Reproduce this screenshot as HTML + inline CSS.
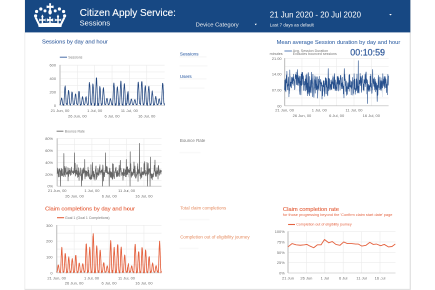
<!DOCTYPE html>
<html><head><meta charset="utf-8"><title>Citizen Apply Service: Sessions</title><style>
html,body{margin:0;padding:0;background:#fff;}
body{width:435px;height:290px;overflow:hidden;position:relative;font-family:"Liberation Sans",sans-serif;}
svg text{font-family:"Liberation Sans",sans-serif;}
</style></head><body>
<div style="position:absolute;left:0;top:0;width:435px;height:290px;overflow:hidden">
<svg width="870" height="580" viewBox="0 0 435 290" style="position:absolute;left:0;top:0;transform:scale(0.5);transform-origin:0 0;will-change:transform">
<line x1="24.80" y1="0.00" x2="24.80" y2="289.00" stroke="#eeeeee" stroke-width="1.0"/>
<line x1="410.30" y1="0.00" x2="410.30" y2="289.50" stroke="#e2e2e2" stroke-width="1.3"/>
<line x1="24.50" y1="289.60" x2="410.80" y2="289.60" stroke="#e2e2e2" stroke-width="1.4"/>
<rect x="25" y="0" width="385.3" height="32.4" fill="#174883"/>
<g transform="translate(34,3)" fill="#fff">
<path d="M15.1 0.3 L17.1 0.3 L16.9 2.9 L19.6 2.5 L19.6 5.1 L16.9 4.8 L17 6.8 L15.2 6.8 L15.3 4.8 L12.6 5.1 L12.6 2.5 L15.3 2.9 Z"/>
<ellipse cx="16.1" cy="9.1" rx="1.7" ry="2.5"/>
<circle cx="6.8" cy="6" r="1.6"/><circle cx="11" cy="7.9" r="1.5"/><circle cx="2.6" cy="8.5" r="1.6"/><circle cx="1.6" cy="12.8" r="1.6"/>
<circle cx="25.4" cy="6" r="1.6"/><circle cx="21.2" cy="7.9" r="1.5"/><circle cx="29.6" cy="8.5" r="1.6"/><circle cx="30.6" cy="12.8" r="1.6"/>
<g id="fl"><rect x="7.7" y="12.8" width="1.4" height="8.4"/><rect x="5.8" y="16.3" width="5.2" height="1.4"/><path d="M8.4 11.4 L9.6 13.8 L8.4 15.4 L7.2 13.8 Z"/><path d="M5.2 15.2 L6.6 17 L5.2 18.8 Z"/><path d="M11.6 15.2 L10.2 17 L11.6 18.8 Z"/></g>
<use href="#fl" x="15.6"/>
<rect x="15.3" y="14.4" width="1.4" height="7"/><path d="M12.8 15.4 L15.6 16.4 L15.6 17.6 L12.8 18.6 Z M19.2 15.4 L16.4 16.4 L16.4 17.6 L19.2 18.6 Z M14.8 13.8 L17.2 13.8 L16 16 Z"/>
<path d="M0.4 14.2 L2.7 14.2 L5.9 21 L4.1 21.8 Z"/><path d="M31.6 14.2 L29.3 14.2 L26.1 21 L27.9 21.8 Z"/>
<path d="M3.9 20.6 Q16 19 28.1 20.6 L27.4 24 L4.6 24 Z"/>
</g>
<text x="79.70" y="16.10" font-size="10.2" fill="#fff" text-anchor="start" textLength="96.2" lengthAdjust="spacingAndGlyphs" stroke="#fff" stroke-width="0.1" >Citizen Apply Service:</text>
<text x="79.70" y="25.40" font-size="7.4" fill="#fff" text-anchor="start" textLength="30.4" lengthAdjust="spacingAndGlyphs" >Sessions</text>
<text x="195.70" y="26.47" font-size="5.8" fill="#f0f0f0" text-anchor="start" textLength="43" lengthAdjust="spacingAndGlyphs" >Device Category</text>
<path d="M254.3 23.8 L257 23.8 L255.65 25.3 Z" fill="#fff"/>
<text x="269.80" y="17.50" font-size="8.0" fill="#fff" text-anchor="start" textLength="91.2" lengthAdjust="spacingAndGlyphs" >21 Jun 2020 - 20 Jul 2020</text>
<path d="M389.2 14 L391.8 14 L390.5 15.5 Z" fill="#fff"/>
<text x="269.80" y="26.60" font-size="4.5" fill="#f4f4f4" text-anchor="start" textLength="44" lengthAdjust="spacingAndGlyphs" >Last 7 days as default</text>
<text x="42.00" y="43.60" font-size="5.9" fill="#345e9e" text-anchor="start" textLength="65.8" lengthAdjust="spacingAndGlyphs" stroke="#345e9e" stroke-width="0.08" >Sessions by day and hour</text>
<text x="45.10" y="210.70" font-size="5.8" fill="#e4623f" text-anchor="start" textLength="89.8" lengthAdjust="spacingAndGlyphs" stroke="#e4623f" stroke-width="0.12" >Claim completions by day and hour</text>
<text x="276.60" y="43.80" font-size="5.8" fill="#3262a5" text-anchor="start" textLength="123.7" lengthAdjust="spacingAndGlyphs" stroke="#3262a5" stroke-width="0.05" >Mean average Session duration by day and hour</text>
<text x="350.30" y="55.60" font-size="8.9" fill="#3a62a0" text-anchor="start" textLength="34.7" lengthAdjust="spacingAndGlyphs" stroke="#3a62a0" stroke-width="0.25" >00:10:59</text>
<text x="282.90" y="210.80" font-size="5.9" fill="#e4623f" text-anchor="start" textLength="56.1" lengthAdjust="spacingAndGlyphs" stroke="#e4623f" stroke-width="0.12" >Claim completion rate</text>
<text x="282.90" y="216.03" font-size="3.9" fill="#e4623f" text-anchor="start" textLength="109.5" lengthAdjust="spacingAndGlyphs" >for those progressing beyond the 'Confirm claim start date' page</text>
<text x="179.90" y="55.50" font-size="4.6" fill="#4a73b0" text-anchor="start" textLength="18.6" lengthAdjust="spacingAndGlyphs" stroke="#4a73b0" stroke-width="0.08" >Sessions</text>
<text x="179.90" y="78.00" font-size="4.6" fill="#4a73b0" text-anchor="start" textLength="11.8" lengthAdjust="spacingAndGlyphs" stroke="#4a73b0" stroke-width="0.08" >Users</text>
<text x="179.90" y="142.10" font-size="4.5" fill="#7a7a7a" text-anchor="start" textLength="25.5" lengthAdjust="spacingAndGlyphs" >Bounce Rate</text>
<text x="180.20" y="209.60" font-size="4.5" fill="#e58a5e" text-anchor="start" textLength="46" lengthAdjust="spacingAndGlyphs" >Total claim completions</text>
<text x="180.20" y="238.60" font-size="4.5" fill="#e58a5e" text-anchor="start" textLength="69.5" lengthAdjust="spacingAndGlyphs" >Completion out of eligibility journey</text>
<rect x="179.50" y="56.00" width="27.00" height="1.60" fill="#f9f9f9"/>
<rect x="179.50" y="65.10" width="28.00" height="1.60" fill="#f9f9f9"/>
<rect x="179.50" y="78.00" width="27.00" height="1.60" fill="#f9f9f9"/>
<rect x="179.50" y="87.40" width="25.00" height="1.60" fill="#f9f9f9"/>
<rect x="179.50" y="151.80" width="21.00" height="1.60" fill="#f9f9f9"/>
<rect x="179.50" y="218.80" width="30.00" height="1.60" fill="#f9f9f9"/>
<rect x="179.50" y="247.60" width="19.00" height="1.60" fill="#f9f9f9"/>
<line x1="60.00" y1="65.20" x2="164.60" y2="65.20" stroke="#ebebeb" stroke-width="0.6"/>
<line x1="60.00" y1="71.92" x2="164.60" y2="71.92" stroke="#ebebeb" stroke-width="0.6"/>
<line x1="60.00" y1="78.63" x2="164.60" y2="78.63" stroke="#ebebeb" stroke-width="0.6"/>
<line x1="60.00" y1="85.35" x2="164.60" y2="85.35" stroke="#ebebeb" stroke-width="0.6"/>
<line x1="60.00" y1="92.07" x2="164.60" y2="92.07" stroke="#ebebeb" stroke-width="0.6"/>
<line x1="60.00" y1="98.78" x2="164.60" y2="98.78" stroke="#ebebeb" stroke-width="0.6"/>
<line x1="77.35" y1="65.20" x2="77.35" y2="105.50" stroke="#ebebeb" stroke-width="0.6"/>
<line x1="94.70" y1="65.20" x2="94.70" y2="105.50" stroke="#ebebeb" stroke-width="0.6"/>
<line x1="112.05" y1="65.20" x2="112.05" y2="105.50" stroke="#ebebeb" stroke-width="0.6"/>
<line x1="129.40" y1="65.20" x2="129.40" y2="105.50" stroke="#ebebeb" stroke-width="0.6"/>
<line x1="146.75" y1="65.20" x2="146.75" y2="105.50" stroke="#ebebeb" stroke-width="0.6"/>
<line x1="60.00" y1="105.50" x2="164.60" y2="105.50" stroke="#b8b8b8" stroke-width="0.6"/>
<line x1="60.00" y1="64.90" x2="60.00" y2="105.50" stroke="#c6c6c6" stroke-width="1.2"/>
<polyline points="60.00,104.76 60.15,104.24 60.29,104.30 60.44,104.40 60.58,103.57 60.73,102.70 60.87,101.50 61.02,100.33 61.16,99.87 61.31,99.14 61.45,98.04 61.60,98.16 61.74,98.09 61.89,99.16 62.03,99.61 62.18,100.38 62.32,101.81 62.47,102.33 62.62,103.27 62.76,104.57 62.91,104.84 63.05,104.46 63.20,104.17 63.34,104.58 63.49,105.04 63.63,104.64 63.78,105.41 63.92,104.24 64.07,101.94 64.21,99.20 64.36,96.68 64.50,93.58 64.65,90.78 64.79,88.06 64.94,86.93 65.08,86.95 65.23,85.87 65.38,87.87 65.52,89.96 65.67,93.67 65.81,95.20 65.96,98.49 66.10,102.55 66.25,104.03 66.39,104.06 66.54,104.08 66.68,103.64 66.83,104.64 66.97,103.99 67.12,104.24 67.26,104.79 67.41,103.76 67.55,101.87 67.70,99.92 67.84,98.12 67.99,95.63 68.14,94.31 68.28,92.27 68.43,90.32 68.57,90.52 68.72,91.27 68.86,91.81 69.01,93.30 69.15,95.50 69.30,98.32 69.44,100.53 69.59,102.43 69.73,103.47 69.88,104.46 70.02,104.65 70.17,104.51 70.31,105.20 70.46,105.11 70.61,104.22 70.75,103.84 70.90,103.84 71.04,102.83 71.19,101.37 71.33,98.88 71.48,96.15 71.62,94.54 71.77,93.33 71.91,91.92 72.06,92.43 72.20,92.39 72.35,92.78 72.49,94.80 72.64,96.86 72.78,99.19 72.93,100.86 73.08,102.08 73.22,104.62 73.37,104.11 73.51,104.06 73.66,103.97 73.80,104.17 73.95,104.13 74.09,104.47 74.24,104.42 74.38,104.12 74.53,103.46 74.67,100.97 74.82,99.56 74.96,98.19 75.11,96.19 75.25,94.90 75.40,94.21 75.54,93.93 75.69,93.99 75.84,94.74 75.98,96.07 76.13,97.89 76.27,100.20 76.42,101.72 76.56,103.31 76.71,103.93 76.85,104.07 77.00,104.14 77.14,104.14 77.29,104.12 77.43,104.85 77.58,103.99 77.72,104.24 77.87,104.52 78.01,103.21 78.16,101.26 78.31,97.90 78.45,96.34 78.60,94.44 78.74,92.00 78.89,91.33 79.03,91.36 79.18,91.60 79.32,92.14 79.47,94.35 79.61,96.31 79.76,97.97 79.90,100.61 80.05,102.76 80.19,103.94 80.34,105.20 80.48,104.66 80.63,104.61 80.77,104.95 80.92,104.83 81.07,104.14 81.21,104.48 81.36,104.42 81.50,103.28 81.65,102.00 81.79,101.42 81.94,100.13 82.08,98.84 82.23,97.40 82.37,97.27 82.52,96.59 82.66,96.82 82.81,97.55 82.95,98.77 83.10,99.30 83.24,100.75 83.39,102.26 83.53,103.61 83.68,104.03 83.83,104.58 83.97,104.43 84.12,104.65 84.26,104.38 84.41,104.88 84.55,104.67 84.70,104.08 84.84,103.83 84.99,103.54 85.13,101.96 85.28,101.17 85.42,99.33 85.57,98.32 85.71,97.66 85.86,97.19 86.00,97.20 86.15,96.65 86.30,97.99 86.44,98.25 86.59,99.31 86.73,100.94 86.88,102.56 87.02,103.05 87.17,103.75 87.31,104.31 87.46,104.48 87.60,104.60 87.75,104.63 87.89,105.16 88.04,104.09 88.18,104.65 88.33,104.26 88.47,102.23 88.62,97.84 88.77,95.11 88.91,90.98 89.06,88.04 89.20,84.13 89.35,82.34 89.49,83.76 89.64,83.94 89.78,85.37 89.93,86.53 90.07,90.34 90.22,95.01 90.36,98.88 90.51,100.93 90.65,102.79 90.80,103.51 90.94,104.85 91.09,103.62 91.23,104.07 91.38,104.53 91.53,103.45 91.67,105.06 91.82,103.13 91.96,102.42 92.11,99.32 92.25,94.36 92.40,92.43 92.54,88.12 92.69,85.96 92.83,83.83 92.98,84.29 93.12,84.91 93.27,86.63 93.41,87.89 93.56,91.59 93.70,94.27 93.85,97.78 94.00,102.31 94.14,103.51 94.29,105.34 94.43,105.48 94.58,105.41 94.72,103.71 94.87,103.71 95.01,103.60 95.16,104.93 95.30,103.06 95.45,99.93 95.59,97.30 95.74,92.48 95.88,89.03 96.03,85.41 96.17,81.71 96.32,77.95 96.46,78.12 96.61,77.85 96.76,81.19 96.90,84.88 97.05,87.50 97.19,91.78 97.34,98.30 97.48,100.23 97.63,104.48 97.77,105.50 97.92,103.45 98.06,105.50 98.21,105.20 98.35,103.57 98.50,104.64 98.64,105.22 98.79,104.36 98.93,102.40 99.08,98.92 99.22,97.21 99.37,92.70 99.52,90.98 99.66,87.69 99.81,86.41 99.95,87.08 100.10,87.64 100.24,88.62 100.39,91.51 100.53,93.19 100.68,97.32 100.82,100.30 100.97,101.00 101.11,104.12 101.26,104.31 101.40,104.59 101.55,104.84 101.69,105.31 101.84,103.76 101.99,103.66 102.13,103.66 102.28,104.47 102.42,102.57 102.57,99.46 102.71,96.06 102.86,94.02 103.00,91.20 103.15,89.19 103.29,88.59 103.44,87.63 103.58,88.50 103.73,89.93 103.87,92.28 104.02,94.49 104.16,96.05 104.31,99.76 104.45,101.79 104.60,103.52 104.75,103.71 104.89,104.69 105.04,104.84 105.18,104.80 105.33,104.63 105.47,104.24 105.62,104.20 105.76,104.37 105.91,103.69 106.05,102.63 106.20,101.55 106.34,100.47 106.49,99.76 106.63,99.14 106.78,98.47 106.92,98.43 107.07,98.25 107.22,99.10 107.36,99.88 107.51,100.44 107.65,101.77 107.80,102.44 107.94,103.57 108.09,103.95 108.23,104.75 108.38,104.49 108.52,104.27 108.67,104.80 108.81,104.19 108.96,104.71 109.10,104.31 109.25,103.92 109.39,103.45 109.54,102.97 109.69,102.18 109.83,100.95 109.98,99.80 110.12,99.53 110.27,98.67 110.41,99.02 110.56,98.66 110.70,99.70 110.85,100.21 110.99,100.69 111.14,101.71 111.28,102.58 111.43,103.44 111.57,104.08 111.72,104.37 111.86,104.71 112.01,104.54 112.15,104.72 112.30,104.00 112.45,104.11 112.59,105.06 112.74,104.55 112.88,100.27 113.03,97.52 113.17,94.53 113.32,90.89 113.46,86.84 113.61,85.08 113.75,83.49 113.90,83.03 114.04,83.81 114.19,86.06 114.33,87.31 114.48,91.17 114.62,94.48 114.77,99.22 114.91,101.66 115.06,104.38 115.21,105.35 115.35,105.04 115.50,103.74 115.64,104.73 115.79,104.68 115.93,104.28 116.08,104.99 116.22,104.66 116.37,101.86 116.51,99.38 116.66,96.18 116.80,93.59 116.95,90.40 117.09,88.14 117.24,87.67 117.38,86.70 117.53,87.22 117.68,89.10 117.82,90.92 117.97,93.36 118.11,95.69 118.26,98.60 118.40,102.33 118.55,103.46 118.69,105.34 118.84,105.30 118.98,104.47 119.13,103.78 119.27,105.29 119.42,103.87 119.56,103.59 119.71,103.97 119.85,100.78 120.00,97.21 120.15,94.64 120.29,90.09 120.44,86.57 120.58,84.15 120.73,81.77 120.87,81.06 121.02,81.52 121.16,84.21 121.31,87.89 121.45,91.15 121.60,95.00 121.74,97.87 121.89,100.62 122.03,104.58 122.18,104.07 122.32,103.98 122.47,104.85 122.61,104.46 122.76,105.20 122.91,104.01 123.05,105.46 123.20,102.61 123.34,100.92 123.49,98.43 123.63,95.89 123.78,91.15 123.92,87.97 124.07,87.24 124.21,84.31 124.36,83.62 124.50,84.55 124.65,86.05 124.79,89.06 124.94,91.12 125.08,94.40 125.23,98.95 125.38,100.93 125.52,103.77 125.67,105.20 125.81,104.86 125.96,105.28 126.10,103.63 126.25,103.83 126.39,105.04 126.54,104.35 126.68,104.05 126.83,103.10 126.97,100.93 127.12,98.79 127.26,95.82 127.41,94.84 127.55,92.93 127.70,91.51 127.84,91.75 127.99,91.24 128.14,92.33 128.28,93.64 128.43,96.60 128.57,98.74 128.72,100.57 128.86,102.87 129.01,103.79 129.15,104.85 129.30,104.23 129.44,104.07 129.59,104.05 129.73,104.19 129.88,104.46 130.02,104.50 130.17,104.04 130.31,103.54 130.46,102.90 130.61,102.14 130.75,101.30 130.90,100.59 131.04,99.49 131.19,99.51 131.33,98.96 131.48,99.24 131.62,99.39 131.77,100.18 131.91,100.86 132.06,102.30 132.20,102.95 132.35,103.67 132.49,104.38 132.64,104.49 132.78,104.58 132.93,104.47 133.07,104.81 133.22,104.53 133.37,104.52 133.51,104.61 133.66,104.34 133.80,103.59 133.95,102.93 134.09,102.22 134.24,101.29 134.38,100.68 134.53,100.17 134.67,99.89 134.82,99.59 134.96,99.53 135.11,99.76 135.25,100.40 135.40,101.37 135.54,101.92 135.69,103.07 135.84,103.56 135.98,104.33 136.13,104.34 136.27,104.20 136.42,104.61 136.56,104.69 136.71,104.22 136.85,104.42 137.00,104.81 137.14,104.69 137.29,101.58 137.43,98.39 137.58,94.86 137.72,90.16 137.87,87.45 138.01,84.44 138.16,82.35 138.30,82.10 138.45,83.27 138.60,84.41 138.74,87.32 138.89,90.64 139.03,94.34 139.18,98.44 139.32,101.03 139.47,103.25 139.61,103.49 139.76,103.85 139.90,103.70 140.05,103.88 140.19,103.72 140.34,104.23 140.48,104.86 140.63,104.06 140.77,100.57 140.92,96.82 141.06,93.77 141.21,90.79 141.36,85.53 141.50,83.51 141.65,81.70 141.79,82.10 141.94,81.60 142.08,82.87 142.23,86.54 142.37,90.30 142.52,93.50 142.66,98.92 142.81,101.07 142.95,102.39 143.10,104.03 143.24,104.73 143.39,104.03 143.53,104.24 143.68,105.06 143.83,105.06 143.97,103.74 144.12,104.15 144.26,102.64 144.41,98.54 144.55,96.11 144.70,93.32 144.84,90.21 144.99,87.52 145.13,87.17 145.28,85.72 145.42,86.11 145.57,87.36 145.71,90.68 145.86,92.85 146.00,96.68 146.15,99.07 146.30,102.45 146.44,103.14 146.59,103.78 146.73,104.82 146.88,105.03 147.02,103.59 147.17,104.10 147.31,103.85 147.46,105.38 147.60,102.98 147.75,101.68 147.89,99.73 148.04,96.59 148.18,92.98 148.33,90.22 148.47,89.16 148.62,86.94 148.76,87.32 148.91,86.29 149.06,88.68 149.20,89.98 149.35,93.05 149.49,96.26 149.64,99.83 149.78,101.86 149.93,104.41 150.07,105.17 150.22,104.09 150.36,104.75 150.51,104.02 150.65,104.86 150.80,104.18 150.94,104.18 151.09,104.21 151.23,103.15 151.38,100.88 151.53,98.59 151.67,96.95 151.82,94.82 151.96,93.41 152.11,91.61 152.25,90.85 152.40,92.15 152.54,93.44 152.69,94.10 152.83,95.94 152.98,97.93 153.12,100.57 153.27,102.82 153.41,103.46 153.56,105.03 153.70,104.22 153.85,105.06 153.99,104.63 154.14,104.50 154.29,104.60 154.43,104.78 154.58,104.40 154.72,103.09 154.87,102.31 155.01,100.94 155.16,99.96 155.30,98.34 155.45,97.73 155.59,96.90 155.74,96.41 155.88,96.55 156.03,97.98 156.17,98.27 156.32,99.40 156.46,101.16 156.61,102.38 156.75,103.30 156.90,103.80 157.05,104.58 157.19,104.16 157.34,104.27 157.48,104.80 157.63,104.21 157.77,104.82 157.92,104.73 158.06,104.14 158.21,103.96 158.35,102.93 158.50,102.16 158.64,100.98 158.79,99.86 158.93,99.12 159.08,99.25 159.22,99.08 159.37,98.71 159.52,99.70 159.66,100.24 159.81,101.22 159.95,102.19 160.10,103.17 160.24,103.57 160.39,104.08 160.53,104.37 160.68,104.26 160.82,104.38 160.97,104.57 161.11,104.19 161.26,103.42 161.40,104.17 161.55,104.14 161.69,102.33 161.84,97.23 161.99,94.43 162.13,91.32 162.28,87.40 162.42,84.84 162.57,83.21 162.71,83.67 162.86,83.59 163.00,85.18 163.15,88.33 163.29,90.11 163.44,94.81 163.58,97.85 163.73,100.84 163.87,103.00 164.02,103.99 164.16,103.92 164.31,105.06 164.45,103.40" fill="none" stroke="#22467f" stroke-width="0.75" stroke-linejoin="round" />
<text x="56.00" y="66.73" font-size="3.9" fill="#6e6e6e" text-anchor="end" >600</text>
<text x="56.00" y="80.16" font-size="3.9" fill="#6e6e6e" text-anchor="end" >400</text>
<text x="56.00" y="93.59" font-size="3.9" fill="#6e6e6e" text-anchor="end" >200</text>
<text x="56.00" y="107.03" font-size="3.9" fill="#6e6e6e" text-anchor="end" >0</text>
<text x="60.00" y="111.96" font-size="4.0" fill="#6e6e6e" text-anchor="middle" >21 Jun, 00</text>
<text x="77.35" y="117.46" font-size="4.0" fill="#6e6e6e" text-anchor="middle" >26 Jun, 00</text>
<text x="94.70" y="111.96" font-size="4.0" fill="#6e6e6e" text-anchor="middle" >1 Jul, 00</text>
<text x="112.05" y="117.46" font-size="4.0" fill="#6e6e6e" text-anchor="middle" >6 Jul, 00</text>
<text x="129.40" y="111.96" font-size="4.0" fill="#6e6e6e" text-anchor="middle" >11 Jul, 00</text>
<text x="146.75" y="117.46" font-size="4.0" fill="#6e6e6e" text-anchor="middle" >16 Jul, 00</text>
<line x1="59.80" y1="57.20" x2="67.00" y2="57.20" stroke="#4a6ea8" stroke-width="1.0"/>
<text x="68.30" y="58.32" font-size="3.6" fill="#7a7a7a" text-anchor="start" textLength="14.1" lengthAdjust="spacingAndGlyphs" >Sessions</text>
<line x1="57.20" y1="138.60" x2="161.50" y2="138.60" stroke="#ebebeb" stroke-width="0.6"/>
<line x1="57.20" y1="144.55" x2="161.50" y2="144.55" stroke="#ebebeb" stroke-width="0.6"/>
<line x1="57.20" y1="150.50" x2="161.50" y2="150.50" stroke="#ebebeb" stroke-width="0.6"/>
<line x1="57.20" y1="156.45" x2="161.50" y2="156.45" stroke="#ebebeb" stroke-width="0.6"/>
<line x1="57.20" y1="162.40" x2="161.50" y2="162.40" stroke="#ebebeb" stroke-width="0.6"/>
<line x1="57.20" y1="168.35" x2="161.50" y2="168.35" stroke="#ebebeb" stroke-width="0.6"/>
<line x1="57.20" y1="174.30" x2="161.50" y2="174.30" stroke="#ebebeb" stroke-width="0.6"/>
<line x1="57.20" y1="180.25" x2="161.50" y2="180.25" stroke="#ebebeb" stroke-width="0.6"/>
<line x1="74.55" y1="138.60" x2="74.55" y2="186.20" stroke="#ebebeb" stroke-width="0.6"/>
<line x1="91.90" y1="138.60" x2="91.90" y2="186.20" stroke="#ebebeb" stroke-width="0.6"/>
<line x1="109.25" y1="138.60" x2="109.25" y2="186.20" stroke="#ebebeb" stroke-width="0.6"/>
<line x1="126.60" y1="138.60" x2="126.60" y2="186.20" stroke="#ebebeb" stroke-width="0.6"/>
<line x1="143.95" y1="138.60" x2="143.95" y2="186.20" stroke="#ebebeb" stroke-width="0.6"/>
<line x1="57.20" y1="186.20" x2="161.50" y2="186.20" stroke="#b8b8b8" stroke-width="0.6"/>
<line x1="57.20" y1="138.30" x2="57.20" y2="186.20" stroke="#c6c6c6" stroke-width="1.2"/>
<polyline points="57.20,173.93 57.34,172.68 57.49,168.10 57.63,170.04 57.78,170.07 57.92,171.43 58.07,172.93 58.21,173.19 58.36,176.93 58.50,173.48 58.65,172.98 58.79,170.35 58.94,169.06 59.08,171.65 59.23,176.76 59.37,172.08 59.52,168.78 59.66,169.48 59.81,171.33 59.95,171.06 60.10,170.72 60.24,170.62 60.39,171.22 60.53,186.20 60.68,175.84 60.82,176.28 60.97,175.23 61.11,172.02 61.26,168.24 61.40,170.06 61.55,172.45 61.69,172.25 61.84,175.60 61.98,169.55 62.13,171.00 62.27,169.32 62.42,175.03 62.56,175.03 62.70,174.60 62.85,175.77 62.99,173.82 63.14,173.78 63.28,176.60 63.43,173.65 63.57,172.20 63.72,170.77 63.86,153.47 64.01,169.98 64.15,171.11 64.30,174.66 64.44,166.34 64.59,168.56 64.73,168.24 64.88,175.99 65.02,172.80 65.17,176.59 65.31,173.43 65.46,170.64 65.60,167.99 65.75,170.32 65.89,171.99 66.04,166.56 66.18,171.94 66.33,172.90 66.47,174.30 66.62,173.65 66.76,173.03 66.91,172.71 67.05,172.87 67.20,174.14 67.34,173.82 67.49,171.64 67.63,171.77 67.77,173.03 67.92,167.58 68.06,180.84 68.21,168.24 68.35,174.18 68.50,176.52 68.64,176.01 68.79,172.81 68.93,171.44 69.08,171.99 69.22,170.24 69.37,172.84 69.51,173.91 69.66,171.60 69.80,172.27 69.95,168.35 70.09,172.15 70.24,169.69 70.38,172.08 70.53,175.40 70.67,174.88 70.82,174.59 70.96,174.72 71.11,171.35 71.25,174.25 71.40,167.14 71.54,170.47 71.69,170.26 71.83,170.78 71.98,170.57 72.12,171.81 72.27,172.40 72.41,172.24 72.56,172.16 72.70,171.90 72.84,172.80 72.99,172.70 73.13,171.02 73.28,173.95 73.42,172.82 73.57,171.81 73.71,173.56 73.86,171.92 74.00,169.70 74.15,168.44 74.29,168.16 74.44,152.88 74.58,172.43 74.73,172.73 74.87,168.28 75.02,163.56 75.16,163.29 75.31,172.09 75.45,173.74 75.60,176.07 75.74,175.28 75.89,171.67 76.03,170.32 76.18,173.92 76.32,173.85 76.47,171.74 76.61,170.68 76.76,168.75 76.90,174.06 77.05,164.78 77.19,174.76 77.34,172.96 77.48,170.93 77.63,177.35 77.77,173.57 77.92,176.43 78.06,173.84 78.20,176.69 78.35,171.08 78.49,170.54 78.64,167.73 78.78,171.63 78.93,174.13 79.07,180.44 79.22,174.94 79.36,174.26 79.51,174.86 79.65,173.21 79.80,173.09 79.94,171.89 80.09,171.70 80.23,169.67 80.38,168.02 80.52,172.45 80.67,175.75 80.81,174.44 80.96,173.76 81.10,174.43 81.25,176.39 81.39,178.95 81.54,186.20 81.68,178.30 81.83,170.30 81.97,171.98 82.12,168.86 82.26,178.36 82.41,180.37 82.55,177.76 82.70,174.33 82.84,172.66 82.99,169.93 83.13,173.38 83.28,171.09 83.42,169.01 83.56,167.83 83.71,170.43 83.85,173.12 84.00,171.18 84.14,171.84 84.29,172.21 84.43,169.81 84.58,171.78 84.72,159.42 84.87,176.39 85.01,178.95 85.16,175.08 85.30,170.63 85.45,171.40 85.59,170.92 85.74,171.15 85.88,172.99 86.03,176.42 86.17,176.73 86.32,172.16 86.46,170.92 86.61,173.11 86.75,171.15 86.90,173.24 87.04,175.72 87.19,175.28 87.33,172.37 87.48,172.53 87.62,172.81 87.77,172.88 87.91,172.71 88.06,167.16 88.20,177.08 88.35,175.07 88.49,176.09 88.63,175.64 88.78,170.05 88.92,174.03 89.07,173.08 89.21,175.77 89.36,174.49 89.50,178.78 89.65,176.79 89.79,178.79 89.94,178.46 90.08,178.00 90.23,179.26 90.37,177.16 90.52,178.04 90.66,175.45 90.81,179.41 90.95,164.78 91.10,176.47 91.24,179.17 91.39,175.40 91.53,175.16 91.68,178.97 91.82,178.52 91.97,175.88 92.11,175.82 92.26,171.53 92.40,168.77 92.55,162.50 92.69,169.88 92.84,170.36 92.98,175.27 93.13,177.01 93.27,174.31 93.42,172.56 93.56,173.18 93.70,171.33 93.85,172.76 93.99,179.13 94.14,176.35 94.28,174.58 94.43,175.15 94.57,176.67 94.72,174.35 94.86,174.68 95.01,180.25 95.15,174.54 95.30,171.14 95.44,169.50 95.59,170.75 95.73,168.42 95.88,166.51 96.02,165.97 96.17,173.59 96.31,172.23 96.46,178.38 96.60,179.43 96.75,174.50 96.89,174.20 97.04,172.83 97.18,176.99 97.33,173.47 97.47,172.79 97.62,174.46 97.76,171.35 97.91,168.52 98.05,173.31 98.20,174.70 98.34,173.59 98.49,173.15 98.63,174.06 98.78,175.77 98.92,170.53 99.06,169.58 99.21,171.69 99.35,168.39 99.50,166.70 99.64,170.56 99.79,173.07 99.93,164.78 100.08,174.29 100.22,171.56 100.37,172.23 100.51,171.73 100.66,172.06 100.80,172.05 100.95,172.07 101.09,170.93 101.24,173.08 101.38,170.00 101.53,171.95 101.67,170.23 101.82,170.68 101.96,170.09 102.11,169.89 102.25,171.12 102.40,186.20 102.54,170.31 102.69,167.93 102.83,165.03 102.98,165.96 103.12,169.35 103.27,174.81 103.41,175.76 103.56,181.01 103.70,175.65 103.85,176.85 103.99,172.28 104.13,173.50 104.28,176.24 104.42,176.65 104.57,174.30 104.71,172.94 104.86,172.77 105.00,170.02 105.15,169.95 105.29,171.37 105.44,170.98 105.58,152.88 105.73,168.56 105.87,168.43 106.02,172.61 106.16,169.77 106.31,167.08 106.45,168.02 106.60,170.28 106.74,166.26 106.89,172.69 107.03,172.71 107.18,166.97 107.32,169.60 107.47,171.05 107.61,173.68 107.76,172.02 107.90,173.93 108.05,173.74 108.19,173.81 108.34,173.66 108.48,173.63 108.63,172.67 108.77,173.44 108.92,173.08 109.06,171.50 109.21,186.20 109.35,172.29 109.49,170.07 109.64,168.44 109.78,168.08 109.93,169.08 110.07,174.42 110.22,172.87 110.36,176.21 110.51,177.14 110.65,174.03 110.80,171.57 110.94,174.09 111.09,174.19 111.23,177.56 111.38,174.32 111.52,172.06 111.67,176.44 111.81,175.33 111.96,173.29 112.10,176.90 112.25,179.20 112.39,179.04 112.54,163.59 112.68,179.04 112.83,176.72 112.97,174.89 113.12,171.01 113.26,164.10 113.41,169.03 113.55,175.43 113.70,175.61 113.84,176.87 113.99,176.58 114.13,177.26 114.28,178.62 114.42,177.18 114.56,172.65 114.71,171.62 114.85,172.35 115.00,171.97 115.14,172.87 115.29,169.83 115.43,170.34 115.58,168.38 115.72,168.06 115.87,170.55 116.01,167.16 116.16,171.85 116.30,173.87 116.45,176.84 116.59,175.83 116.74,175.55 116.88,172.63 117.03,171.73 117.17,172.69 117.32,173.36 117.46,176.47 117.61,170.51 117.75,172.43 117.90,174.32 118.04,176.20 118.19,175.32 118.33,175.55 118.48,174.48 118.62,172.99 118.77,173.99 118.91,169.06 119.06,171.45 119.20,165.38 119.35,171.12 119.49,169.78 119.64,176.04 119.78,176.50 119.92,174.77 120.07,170.18 120.21,162.75 120.36,160.32 120.50,168.77 120.65,168.11 120.79,169.57 120.94,168.41 121.08,171.89 121.23,170.63 121.37,173.14 121.52,173.08 121.66,173.18 121.81,175.48 121.95,174.54 122.10,174.44 122.24,172.97 122.39,174.13 122.53,172.38 122.68,172.72 122.82,173.10 122.97,180.25 123.11,177.15 123.26,172.29 123.40,169.57 123.55,168.68 123.69,172.80 123.84,175.54 123.98,173.51 124.13,174.84 124.27,173.77 124.42,175.52 124.56,172.31 124.71,173.80 124.85,169.02 125.00,170.77 125.14,170.24 125.28,172.81 125.43,173.14 125.57,176.79 125.72,171.82 125.86,169.69 126.01,173.64 126.15,176.59 126.30,159.42 126.44,174.14 126.59,174.78 126.73,174.35 126.88,174.61 127.02,167.36 127.17,170.01 127.31,166.86 127.46,173.87 127.60,172.09 127.75,172.41 127.89,177.00 128.04,169.95 128.18,171.52 128.33,169.33 128.47,171.77 128.62,169.97 128.76,172.31 128.91,172.00 129.05,171.83 129.20,171.29 129.34,170.17 129.49,172.78 129.63,172.21 129.78,168.36 129.92,168.17 130.07,186.20 130.21,151.69 130.35,170.77 130.50,168.37 130.64,167.48 130.79,163.76 130.93,169.83 131.08,171.26 131.22,175.93 131.37,177.24 131.51,175.16 131.66,172.95 131.80,172.51 131.95,171.84 132.09,172.68 132.24,175.82 132.38,174.92 132.53,173.39 132.67,174.47 132.82,174.25 132.96,172.40 133.11,174.58 133.25,172.81 133.40,169.28 133.54,172.05 133.69,172.30 133.83,173.05 133.98,161.96 134.12,165.92 134.27,167.64 134.41,172.50 134.56,169.47 134.70,176.29 134.85,171.95 134.99,165.97 135.14,171.49 135.28,170.23 135.43,173.49 135.57,177.85 135.71,176.59 135.86,178.19 136.00,176.07 136.15,177.23 136.29,176.25 136.44,175.29 136.58,174.24 136.73,175.35 136.87,172.02 137.02,173.98 137.16,174.10 137.31,172.83 137.45,166.50 137.60,168.28 137.74,163.64 137.89,169.91 138.03,181.44 138.18,174.38 138.32,172.70 138.47,171.72 138.61,169.58 138.76,171.85 138.90,170.76 139.05,173.35 139.19,173.23 139.34,171.78 139.48,143.36 139.63,171.76 139.77,172.57 139.92,172.51 140.06,175.90 140.21,174.87 140.35,175.65 140.50,174.00 140.64,176.05 140.78,178.99 140.93,172.88 141.07,170.40 141.22,167.47 141.36,175.48 141.51,174.82 141.65,177.50 141.80,177.05 141.94,173.87 142.09,173.51 142.23,172.05 142.38,172.48 142.52,174.54 142.67,171.83 142.81,173.16 142.96,172.71 143.10,171.66 143.25,174.95 143.39,172.85 143.54,171.99 143.68,172.92 143.83,174.21 143.97,163.59 144.12,172.07 144.26,172.79 144.41,168.13 144.55,164.41 144.70,161.54 144.84,173.83 144.99,172.02 145.13,174.10 145.28,170.41 145.42,172.84 145.57,174.08 145.71,175.51 145.86,175.94 146.00,173.63 146.14,173.47 146.29,173.31 146.43,173.70 146.58,171.73 146.72,171.40 146.87,172.49 147.01,162.40 147.16,172.58 147.30,175.24 147.45,171.56 147.59,186.20 147.74,174.12 147.88,167.58 148.03,163.35 148.17,163.55 148.32,170.57 148.46,169.66 148.61,174.15 148.75,171.91 148.90,173.00 149.04,168.96 149.19,169.00 149.33,170.91 149.48,168.56 149.62,169.02 149.77,171.87 149.91,173.20 150.06,186.20 150.20,171.48 150.35,173.31 150.49,157.04 150.64,175.32 150.78,174.58 150.93,173.94 151.07,173.57 151.21,178.01 151.36,178.02 151.50,177.62 151.65,174.17 151.79,178.22 151.94,177.46 152.08,176.62 152.23,179.66 152.37,176.51 152.52,174.20 152.66,177.01 152.81,174.03 152.95,176.91 153.10,176.92 153.24,176.64 153.39,176.16 153.53,173.32 153.68,173.19 153.82,174.08 153.97,172.71 154.11,169.79 154.26,165.38 154.40,171.36 154.55,169.67 154.69,170.62 154.84,166.31 154.98,160.09 155.13,168.86 155.27,171.00 155.42,175.14 155.56,176.28 155.71,176.39 155.85,171.56 156.00,173.84 156.14,176.65 156.28,173.64 156.43,176.00 156.57,172.15 156.72,169.98 156.86,172.06 157.01,167.75 157.15,173.72 157.30,171.23 157.44,171.62 157.59,170.89 157.73,171.86 157.88,171.31 158.02,179.06 158.17,173.23 158.31,165.37 158.46,166.99 158.60,165.95 158.75,169.03 158.89,169.84 159.04,173.30 159.18,174.33 159.33,175.19 159.47,172.85 159.62,172.65 159.76,171.99 159.91,171.66 160.05,169.72 160.20,171.65 160.34,170.59 160.49,172.54 160.63,171.42 160.78,173.86 160.92,173.90 161.07,170.20 161.21,170.58 161.36,172.03" fill="none" stroke="#666" stroke-width="0.7" stroke-linejoin="round" />
<text x="53.00" y="140.13" font-size="3.9" fill="#6e6e6e" text-anchor="end" >80%</text>
<text x="53.00" y="152.03" font-size="3.9" fill="#6e6e6e" text-anchor="end" >60%</text>
<text x="53.00" y="163.93" font-size="3.9" fill="#6e6e6e" text-anchor="end" >40%</text>
<text x="53.00" y="175.83" font-size="3.9" fill="#6e6e6e" text-anchor="end" >20%</text>
<text x="53.00" y="187.73" font-size="3.9" fill="#6e6e6e" text-anchor="end" >0%</text>
<text x="57.20" y="191.86" font-size="4.0" fill="#6e6e6e" text-anchor="middle" >21 Jun, 00</text>
<text x="74.55" y="197.66" font-size="4.0" fill="#6e6e6e" text-anchor="middle" >26 Jun, 00</text>
<text x="91.90" y="191.86" font-size="4.0" fill="#6e6e6e" text-anchor="middle" >1 Jul, 00</text>
<text x="109.25" y="197.66" font-size="4.0" fill="#6e6e6e" text-anchor="middle" >6 Jul, 00</text>
<text x="126.60" y="191.86" font-size="4.0" fill="#6e6e6e" text-anchor="middle" >11 Jul, 00</text>
<text x="143.95" y="197.66" font-size="4.0" fill="#6e6e6e" text-anchor="middle" >16 Jul, 00</text>
<line x1="56.60" y1="131.20" x2="63.40" y2="131.20" stroke="#777" stroke-width="1.0"/>
<text x="64.80" y="132.42" font-size="3.6" fill="#7a7a7a" text-anchor="start" textLength="20" lengthAdjust="spacingAndGlyphs" >Bounce Rate</text>
<line x1="56.70" y1="225.30" x2="161.50" y2="225.30" stroke="#ebebeb" stroke-width="0.6"/>
<line x1="56.70" y1="233.22" x2="161.50" y2="233.22" stroke="#ebebeb" stroke-width="0.6"/>
<line x1="56.70" y1="241.13" x2="161.50" y2="241.13" stroke="#ebebeb" stroke-width="0.6"/>
<line x1="56.70" y1="249.05" x2="161.50" y2="249.05" stroke="#ebebeb" stroke-width="0.6"/>
<line x1="56.70" y1="256.97" x2="161.50" y2="256.97" stroke="#ebebeb" stroke-width="0.6"/>
<line x1="56.70" y1="264.88" x2="161.50" y2="264.88" stroke="#ebebeb" stroke-width="0.6"/>
<line x1="74.15" y1="225.30" x2="74.15" y2="272.80" stroke="#ebebeb" stroke-width="0.6"/>
<line x1="91.60" y1="225.30" x2="91.60" y2="272.80" stroke="#ebebeb" stroke-width="0.6"/>
<line x1="109.05" y1="225.30" x2="109.05" y2="272.80" stroke="#ebebeb" stroke-width="0.6"/>
<line x1="126.50" y1="225.30" x2="126.50" y2="272.80" stroke="#ebebeb" stroke-width="0.6"/>
<line x1="143.95" y1="225.30" x2="143.95" y2="272.80" stroke="#ebebeb" stroke-width="0.6"/>
<line x1="56.70" y1="272.80" x2="161.50" y2="272.80" stroke="#b8b8b8" stroke-width="0.6"/>
<line x1="56.70" y1="225.00" x2="56.70" y2="272.80" stroke="#c6c6c6" stroke-width="1.2"/>
<polyline points="56.70,272.21 56.85,271.97 56.99,272.11 57.14,271.64 57.28,270.93 57.43,270.38 57.57,269.31 57.72,267.54 57.86,266.94 58.01,266.12 58.16,265.01 58.30,265.22 58.45,265.13 58.59,265.94 58.74,266.65 58.88,268.06 59.03,268.83 59.17,269.77 59.32,271.00 59.47,271.53 59.61,271.88 59.76,272.34 59.90,271.81 60.05,271.94 60.19,272.49 60.34,272.80 60.48,271.12 60.63,271.07 60.78,268.05 60.92,264.31 61.07,260.84 61.21,256.38 61.36,254.05 61.50,250.18 61.65,249.19 61.79,247.35 61.94,248.13 62.09,251.90 62.23,254.69 62.38,258.10 62.52,260.23 62.67,265.39 62.81,268.28 62.96,271.48 63.10,271.99 63.25,272.29 63.40,272.37 63.54,271.80 63.69,271.85 63.83,271.24 63.98,271.66 64.12,270.41 64.27,268.69 64.41,265.85 64.56,263.46 64.71,261.38 64.85,257.27 65.00,254.85 65.14,253.53 65.29,253.67 65.43,253.89 65.58,256.28 65.72,257.32 65.87,260.60 66.02,264.20 66.16,267.61 66.31,268.70 66.45,270.30 66.60,272.79 66.74,271.44 66.89,272.18 67.03,272.67 67.18,272.32 67.33,271.60 67.47,271.44 67.62,272.08 67.76,269.75 67.91,268.56 68.05,265.17 68.20,263.35 68.34,260.31 68.49,258.40 68.64,257.98 68.78,256.84 68.93,258.28 69.07,259.77 69.22,260.74 69.36,263.80 69.51,265.96 69.65,268.01 69.80,269.75 69.95,271.91 70.09,272.70 70.24,271.45 70.38,272.29 70.53,271.31 70.67,271.46 70.82,272.18 70.96,272.06 71.11,271.42 71.26,269.90 71.40,268.10 71.55,265.99 71.69,263.71 71.84,261.25 71.98,260.25 72.13,259.32 72.27,258.56 72.42,259.59 72.57,260.54 72.71,261.20 72.86,263.84 73.00,266.01 73.15,268.92 73.29,270.22 73.44,271.33 73.58,272.68 73.73,271.85 73.88,271.82 74.02,272.62 74.17,271.78 74.31,272.07 74.46,271.69 74.60,271.54 74.75,269.19 74.89,266.72 75.04,265.21 75.19,262.30 75.33,258.62 75.48,256.04 75.62,255.97 75.77,255.14 75.91,255.36 76.06,257.18 76.20,259.17 76.35,261.85 76.50,264.59 76.64,266.97 76.79,269.91 76.93,271.50 77.08,271.53 77.22,272.80 77.37,271.89 77.51,271.59 77.66,272.19 77.81,272.27 77.95,271.72 78.10,271.88 78.24,271.04 78.39,269.57 78.53,267.89 78.68,267.00 78.82,265.46 78.97,264.38 79.12,263.22 79.26,263.36 79.41,263.20 79.55,264.54 79.70,265.44 79.84,266.48 79.99,267.71 80.13,269.55 80.28,271.01 80.43,272.00 80.57,271.98 80.72,272.30 80.86,271.72 81.01,271.69 81.15,272.30 81.30,272.21 81.44,271.73 81.59,271.52 81.74,270.51 81.88,269.74 82.03,268.56 82.17,267.01 82.32,265.26 82.46,264.72 82.61,263.99 82.75,263.69 82.90,263.92 83.05,264.59 83.19,265.14 83.34,267.13 83.48,268.68 83.63,269.19 83.77,270.44 83.92,271.20 84.06,272.07 84.21,271.59 84.36,271.62 84.50,272.26 84.65,271.31 84.79,271.05 84.94,271.54 85.08,270.77 85.23,268.59 85.37,264.50 85.52,260.28 85.67,256.09 85.81,250.37 85.96,247.84 86.10,244.17 86.25,245.60 86.39,243.90 86.54,246.68 86.68,249.41 86.83,253.73 86.98,258.36 87.12,263.83 87.27,269.38 87.41,270.12 87.56,272.80 87.70,272.58 87.85,271.54 87.99,271.94 88.14,272.22 88.29,270.92 88.43,271.73 88.58,271.37 88.72,269.13 88.87,264.20 89.01,261.20 89.16,256.41 89.30,253.80 89.45,251.24 89.60,248.51 89.74,247.15 89.89,249.41 90.03,249.77 90.18,252.38 90.32,256.35 90.47,260.34 90.61,266.32 90.76,268.20 90.91,270.08 91.05,272.80 91.20,272.58 91.34,272.58 91.49,271.94 91.63,272.31 91.78,272.11 91.92,270.93 92.07,272.32 92.22,268.19 92.36,262.46 92.51,256.18 92.65,249.98 92.80,240.58 92.94,236.36 93.09,236.35 93.23,233.68 93.38,235.45 93.53,238.48 93.67,243.01 93.82,247.72 93.96,254.38 94.11,261.55 94.25,267.66 94.40,271.04 94.54,272.80 94.69,271.79 94.84,271.16 94.98,272.48 95.13,272.80 95.27,272.80 95.42,272.34 95.56,270.63 95.71,267.54 95.85,264.96 96.00,259.63 96.15,255.81 96.29,252.39 96.44,249.41 96.58,247.07 96.73,245.82 96.87,247.27 97.02,248.56 97.16,252.31 97.31,256.81 97.46,260.34 97.60,264.13 97.75,269.42 97.89,271.11 98.04,272.20 98.18,271.00 98.33,270.85 98.47,272.34 98.62,271.11 98.77,271.35 98.91,272.54 99.06,271.16 99.20,269.71 99.35,265.07 99.49,261.85 99.64,257.71 99.78,254.61 99.93,252.24 100.08,250.38 100.22,250.17 100.37,251.80 100.51,252.42 100.66,256.38 100.80,259.38 100.95,261.60 101.09,266.80 101.24,269.78 101.39,271.98 101.53,271.15 101.68,272.73 101.82,272.80 101.97,271.24 102.11,272.39 102.26,271.67 102.40,271.84 102.55,271.28 102.70,270.23 102.84,269.29 102.99,267.57 103.13,266.79 103.28,264.65 103.42,263.79 103.57,262.86 103.71,263.22 103.86,262.83 104.01,263.36 104.15,265.36 104.30,266.50 104.44,267.80 104.59,269.04 104.73,270.93 104.88,271.93 105.02,272.26 105.17,271.89 105.32,271.76 105.46,272.11 105.61,272.10 105.75,272.08 105.90,272.11 106.04,271.81 106.19,271.42 106.33,270.28 106.48,268.97 106.63,268.34 106.77,267.20 106.92,266.86 107.06,266.03 107.21,265.82 107.35,266.04 107.50,266.62 107.64,267.38 107.79,268.19 107.94,269.02 108.08,270.52 108.23,271.41 108.37,271.58 108.52,271.72 108.66,272.00 108.81,272.05 108.95,271.86 109.10,272.80 109.25,272.73 109.39,272.80 109.54,270.44 109.68,268.18 109.83,264.11 109.97,257.69 110.12,251.78 110.26,249.18 110.41,244.19 110.56,242.71 110.70,240.51 110.85,242.17 110.99,245.55 111.14,249.42 111.28,254.68 111.43,258.35 111.57,263.64 111.72,268.62 111.87,271.14 112.01,272.56 112.16,271.15 112.30,272.80 112.45,270.48 112.59,272.06 112.74,271.77 112.88,272.09 113.03,270.18 113.18,267.80 113.32,265.09 113.47,261.41 113.61,256.87 113.76,252.93 113.90,251.16 114.05,248.49 114.19,247.29 114.34,249.14 114.49,251.57 114.63,254.44 114.78,256.88 114.92,260.93 115.07,264.11 115.21,267.73 115.36,271.63 115.50,272.77 115.65,272.60 115.80,272.77 115.94,271.51 116.09,270.99 116.23,270.87 116.38,272.71 116.52,269.78 116.67,268.52 116.81,264.27 116.96,258.85 117.11,256.04 117.25,251.78 117.40,246.28 117.54,245.65 117.69,244.71 117.83,244.82 117.98,246.73 118.12,252.03 118.27,255.33 118.42,259.68 118.56,264.09 118.71,268.82 118.85,270.58 119.00,270.71 119.14,272.32 119.29,271.88 119.43,272.80 119.58,272.58 119.73,271.59 119.87,272.80 120.02,269.98 120.16,267.41 120.31,265.98 120.45,259.81 120.60,257.14 120.74,252.37 120.89,249.41 121.04,248.65 121.18,247.02 121.33,247.74 121.47,249.29 121.62,253.66 121.76,256.17 121.91,259.76 122.05,264.52 122.20,268.36 122.35,271.94 122.49,272.02 122.64,272.38 122.78,271.46 122.93,271.56 123.07,271.89 123.22,272.57 123.36,271.75 123.51,271.05 123.66,270.12 123.80,266.45 123.95,264.09 124.09,262.19 124.24,258.17 124.38,257.50 124.53,255.83 124.67,254.68 124.82,255.35 124.97,256.76 125.11,258.67 125.26,261.60 125.40,264.69 125.55,267.72 125.69,270.32 125.84,270.90 125.98,271.56 126.13,271.93 126.28,271.58 126.42,272.26 126.57,272.22 126.71,272.12 126.86,271.67 127.00,272.07 127.15,270.79 127.29,269.83 127.44,267.97 127.59,266.95 127.73,265.68 127.88,264.59 128.02,263.81 128.17,263.37 128.31,263.98 128.46,264.19 128.60,265.89 128.75,267.03 128.90,268.59 129.04,269.95 129.19,270.54 129.33,271.44 129.48,272.30 129.62,272.29 129.77,272.08 129.91,271.78 130.06,271.79 130.21,271.84 130.35,271.95 130.50,271.99 130.64,271.21 130.79,270.49 130.93,269.27 131.08,268.24 131.22,267.57 131.37,266.80 131.52,265.96 131.66,266.31 131.81,265.95 131.95,266.36 132.10,267.06 132.24,268.36 132.39,269.26 132.53,270.22 132.68,271.05 132.83,271.43 132.97,271.88 133.12,272.14 133.26,271.76 133.41,272.02 133.55,271.72 133.70,271.36 133.84,272.80 133.99,270.05 134.14,267.53 134.28,264.07 134.43,259.43 134.57,254.97 134.72,251.49 134.86,247.15 135.01,246.37 135.15,244.30 135.30,244.64 135.45,247.39 135.59,250.43 135.74,253.55 135.88,258.38 136.03,265.09 136.17,267.16 136.32,270.47 136.46,272.80 136.61,272.41 136.76,272.77 136.90,272.80 137.05,271.93 137.19,271.11 137.34,272.38 137.48,270.37 137.63,268.69 137.77,267.00 137.92,262.18 138.07,259.35 138.21,255.59 138.36,253.58 138.50,251.95 138.65,252.23 138.79,251.81 138.94,253.13 139.08,255.73 139.23,259.69 139.38,262.40 139.52,266.27 139.67,269.91 139.81,272.10 139.96,272.80 140.10,272.63 140.25,272.72 140.39,272.01 140.54,271.50 140.69,271.91 140.83,272.21 140.98,270.58 141.12,268.95 141.27,265.05 141.41,260.28 141.56,257.07 141.70,253.87 141.85,249.05 142.00,247.58 142.14,247.80 142.29,248.46 142.43,249.99 142.58,252.82 142.72,257.52 142.87,262.19 143.01,265.70 143.16,267.73 143.31,271.86 143.45,272.11 143.60,272.78 143.74,272.74 143.89,272.80 144.03,272.23 144.18,272.77 144.32,272.80 144.47,271.95 144.62,269.56 144.76,265.66 144.91,263.01 145.05,259.38 145.20,255.02 145.34,252.40 145.49,249.98 145.63,250.87 145.78,250.67 145.93,252.43 146.07,255.98 146.22,257.22 146.36,262.65 146.51,266.57 146.65,268.85 146.80,271.83 146.94,271.73 147.09,272.36 147.24,272.80 147.38,272.80 147.53,271.64 147.67,272.38 147.82,271.54 147.96,271.40 148.11,269.05 148.25,267.88 148.40,265.41 148.55,262.79 148.69,259.52 148.84,257.92 148.98,257.17 149.13,257.15 149.27,256.62 149.42,257.37 149.56,259.88 149.71,263.21 149.86,265.77 150.00,268.22 150.15,270.30 150.29,272.10 150.44,272.74 150.58,271.76 150.73,271.36 150.87,272.50 151.02,271.56 151.17,272.03 151.31,271.72 151.46,271.24 151.60,270.33 151.75,269.95 151.89,268.26 152.04,266.52 152.18,264.86 152.33,264.61 152.48,263.73 152.62,262.97 152.77,263.90 152.91,264.33 153.06,265.44 153.20,266.45 153.35,267.67 153.49,269.82 153.64,270.52 153.79,271.41 153.93,271.69 154.08,271.96 154.22,271.61 154.37,272.14 154.51,272.07 154.66,272.20 154.80,271.81 154.95,271.75 155.10,271.25 155.24,270.42 155.39,268.99 155.53,268.01 155.68,266.97 155.82,266.43 155.97,265.86 156.11,265.92 156.26,265.70 156.41,266.69 156.55,267.14 156.70,267.90 156.84,269.02 156.99,270.48 157.13,271.28 157.28,271.49 157.42,271.91 157.57,271.74 157.72,271.74 157.86,272.04 158.01,270.77 158.15,271.28 158.30,272.53 158.44,271.11 158.59,268.94 158.73,263.59 158.88,256.87 159.03,254.42 159.17,248.33 159.32,246.04 159.46,243.74 159.61,241.14 159.75,243.24 159.90,246.24 160.04,249.63 160.19,252.74 160.34,258.02 160.48,264.80 160.63,268.44 160.77,269.25 160.92,272.80 161.06,271.81 161.21,272.26 161.35,271.13" fill="none" stroke="#e4623f" stroke-width="0.85" stroke-linejoin="round" />
<text x="52.60" y="226.83" font-size="3.9" fill="#6e6e6e" text-anchor="end" >300</text>
<text x="52.60" y="242.66" font-size="3.9" fill="#6e6e6e" text-anchor="end" >200</text>
<text x="52.60" y="258.49" font-size="3.9" fill="#6e6e6e" text-anchor="end" >100</text>
<text x="52.60" y="274.33" font-size="3.9" fill="#6e6e6e" text-anchor="end" >0</text>
<text x="56.70" y="279.26" font-size="4.0" fill="#6e6e6e" text-anchor="middle" >21 Jun, 00</text>
<text x="74.15" y="284.36" font-size="4.0" fill="#6e6e6e" text-anchor="middle" >26 Jun, 00</text>
<text x="91.60" y="279.26" font-size="4.0" fill="#6e6e6e" text-anchor="middle" >1 Jul, 00</text>
<text x="109.05" y="284.36" font-size="4.0" fill="#6e6e6e" text-anchor="middle" >6 Jul, 00</text>
<text x="126.50" y="279.26" font-size="4.0" fill="#6e6e6e" text-anchor="middle" >11 Jul, 00</text>
<text x="143.95" y="284.36" font-size="4.0" fill="#6e6e6e" text-anchor="middle" >16 Jul, 00</text>
<line x1="57.00" y1="217.70" x2="64.10" y2="217.70" stroke="#e4623f" stroke-width="1.1"/>
<text x="65.00" y="218.92" font-size="3.6" fill="#777" text-anchor="start" textLength="44.6" lengthAdjust="spacingAndGlyphs" >Goal 1 (Goal 1 Completions)</text>
<line x1="284.60" y1="58.40" x2="388.60" y2="58.40" stroke="#ebebeb" stroke-width="0.6"/>
<line x1="284.60" y1="66.30" x2="388.60" y2="66.30" stroke="#ebebeb" stroke-width="0.6"/>
<line x1="284.60" y1="74.20" x2="388.60" y2="74.20" stroke="#ebebeb" stroke-width="0.6"/>
<line x1="284.60" y1="82.10" x2="388.60" y2="82.10" stroke="#ebebeb" stroke-width="0.6"/>
<line x1="284.60" y1="90.00" x2="388.60" y2="90.00" stroke="#ebebeb" stroke-width="0.6"/>
<line x1="284.60" y1="97.90" x2="388.60" y2="97.90" stroke="#ebebeb" stroke-width="0.6"/>
<line x1="301.95" y1="58.40" x2="301.95" y2="105.80" stroke="#ebebeb" stroke-width="0.6"/>
<line x1="319.30" y1="58.40" x2="319.30" y2="105.80" stroke="#ebebeb" stroke-width="0.6"/>
<line x1="336.65" y1="58.40" x2="336.65" y2="105.80" stroke="#ebebeb" stroke-width="0.6"/>
<line x1="354.00" y1="58.40" x2="354.00" y2="105.80" stroke="#ebebeb" stroke-width="0.6"/>
<line x1="371.35" y1="58.40" x2="371.35" y2="105.80" stroke="#ebebeb" stroke-width="0.6"/>
<line x1="284.60" y1="105.80" x2="388.60" y2="105.80" stroke="#b8b8b8" stroke-width="0.6"/>
<line x1="284.60" y1="58.10" x2="284.60" y2="105.80" stroke="#c6c6c6" stroke-width="1.2"/>
<polyline points="284.60,89.93 284.74,85.53 284.89,80.19 285.03,84.39 285.18,90.58 285.32,87.99 285.47,83.99 285.61,78.85 285.76,86.99 285.90,91.83 286.04,85.02 286.19,82.37 286.33,75.89 286.48,74.94 286.62,79.56 286.77,82.92 286.91,71.28 287.06,78.43 287.20,84.72 287.34,89.85 287.49,86.82 287.63,84.92 287.78,86.20 287.92,85.56 288.07,83.63 288.21,80.57 288.36,76.97 288.50,79.20 288.64,89.90 288.79,83.98 288.93,96.77 289.08,88.60 289.22,93.57 289.37,89.32 289.51,90.67 289.66,86.72 289.80,69.91 289.94,76.54 290.09,75.96 290.23,85.91 290.38,86.48 290.52,82.28 290.67,83.55 290.81,82.06 290.96,82.50 291.10,88.00 291.24,83.59 291.39,87.68 291.53,77.21 291.68,82.72 291.82,80.10 291.97,81.90 292.11,78.39 292.26,83.83 292.40,79.23 292.54,82.02 292.69,76.98 292.83,77.24 292.98,79.67 293.12,85.38 293.27,81.18 293.41,80.29 293.56,74.23 293.70,80.48 293.84,79.49 293.99,79.17 294.13,80.06 294.28,80.91 294.42,81.49 294.57,85.52 294.71,89.70 294.86,89.07 295.00,84.05 295.14,76.92 295.29,75.54 295.43,74.41 295.58,75.10 295.72,75.85 295.87,78.71 296.01,77.49 296.16,72.07 296.30,79.05 296.44,84.63 296.59,75.11 296.73,78.01 296.88,76.16 297.02,75.61 297.17,84.83 297.31,72.98 297.46,69.58 297.60,75.29 297.74,75.70 297.89,78.89 298.03,85.44 298.18,85.38 298.32,83.05 298.47,78.25 298.61,77.53 298.76,80.22 298.90,75.56 299.04,83.02 299.19,79.76 299.33,76.46 299.48,81.29 299.62,91.06 299.77,92.24 299.91,94.51 300.06,83.46 300.20,76.43 300.34,84.65 300.49,84.41 300.63,81.21 300.78,83.27 300.92,94.89 301.07,86.23 301.21,74.32 301.36,73.98 301.50,82.89 301.64,85.41 301.79,83.78 301.93,72.14 302.08,74.61 302.22,78.36 302.37,73.57 302.51,78.71 302.66,72.33 302.80,80.89 302.94,84.60 303.09,80.97 303.23,75.64 303.38,76.36 303.52,78.43 303.67,89.63 303.81,90.53 303.96,90.55 304.10,90.19 304.24,84.68 304.39,86.02 304.53,81.44 304.68,82.26 304.82,84.68 304.97,83.87 305.11,81.96 305.26,78.87 305.40,83.50 305.54,84.89 305.69,91.01 305.83,80.31 305.98,75.15 306.12,80.04 306.27,84.15 306.41,90.00 306.56,86.55 306.70,84.49 306.84,73.98 306.99,77.38 307.13,84.11 307.28,95.71 307.42,83.82 307.57,83.06 307.71,91.17 307.86,87.15 308.00,93.42 308.14,72.74 308.29,72.56 308.43,75.06 308.58,79.97 308.72,91.98 308.87,89.05 309.01,94.21 309.16,86.85 309.30,95.76 309.44,94.83 309.59,84.24 309.73,76.40 309.88,85.48 310.02,92.14 310.17,84.37 310.31,80.22 310.46,86.66 310.60,88.81 310.74,89.99 310.89,92.99 311.03,92.23 311.18,82.66 311.32,80.05 311.47,72.14 311.61,77.94 311.76,81.37 311.90,87.27 312.04,86.44 312.19,91.63 312.33,96.68 312.48,87.73 312.62,79.28 312.77,77.50 312.91,74.17 313.06,77.46 313.20,83.86 313.34,83.57 313.49,85.60 313.63,90.21 313.78,95.50 313.92,97.41 314.07,91.46 314.21,87.45 314.36,88.21 314.50,79.60 314.64,80.79 314.79,79.53 314.93,75.83 315.08,83.45 315.22,93.09 315.37,85.49 315.51,88.14 315.66,80.12 315.80,80.33 315.94,77.27 316.09,76.74 316.23,89.93 316.38,83.91 316.52,87.20 316.67,89.40 316.81,89.09 316.96,83.22 317.10,79.44 317.24,76.76 317.39,87.94 317.53,89.03 317.68,98.08 317.82,92.29 317.97,85.77 318.11,88.66 318.26,85.46 318.40,83.77 318.54,79.15 318.69,85.29 318.83,88.70 318.98,90.26 319.12,79.19 319.27,76.25 319.41,80.38 319.56,81.00 319.70,81.87 319.84,81.92 319.99,83.91 320.13,85.59 320.28,90.89 320.42,90.89 320.57,80.03 320.71,79.33 320.86,81.18 321.00,83.53 321.14,83.50 321.29,82.11 321.43,86.08 321.58,84.27 321.72,83.07 321.87,87.10 322.01,99.03 322.16,91.82 322.30,93.40 322.44,85.01 322.59,95.80 322.73,91.82 322.88,91.25 323.02,90.99 323.17,87.44 323.31,80.60 323.46,81.83 323.60,83.53 323.74,86.70 323.89,86.16 324.03,80.92 324.18,84.23 324.32,89.62 324.47,93.14 324.61,94.33 324.76,96.33 324.90,85.63 325.04,83.27 325.19,84.78 325.33,77.57 325.48,83.64 325.62,80.29 325.77,78.22 325.91,88.21 326.06,93.76 326.20,93.82 326.34,85.16 326.49,78.56 326.63,86.88 326.78,80.67 326.92,84.05 327.07,85.95 327.21,87.74 327.36,87.65 327.50,94.69 327.64,94.68 327.79,95.79 327.93,88.22 328.08,76.48 328.22,68.56 328.37,76.29 328.51,87.98 328.66,88.18 328.80,90.81 328.94,78.40 329.09,78.27 329.23,84.36 329.38,79.82 329.52,79.22 329.67,89.14 329.81,89.40 329.96,88.17 330.10,86.26 330.24,84.68 330.39,86.04 330.53,84.28 330.68,86.99 330.82,89.95 330.97,80.15 331.11,80.23 331.26,79.91 331.40,89.37 331.54,87.80 331.69,82.27 331.83,89.23 331.98,81.73 332.12,84.66 332.27,82.51 332.41,83.87 332.56,82.95 332.70,77.78 332.84,82.55 332.99,75.85 333.13,83.28 333.28,88.08 333.42,82.93 333.57,88.52 333.71,88.30 333.86,82.13 334.00,77.29 334.14,88.78 334.29,84.29 334.43,75.29 334.58,73.60 334.72,79.48 334.87,84.42 335.01,85.70 335.16,90.46 335.30,88.86 335.44,87.62 335.59,86.74 335.73,79.96 335.88,82.93 336.02,90.38 336.17,82.59 336.31,88.37 336.46,88.58 336.60,87.21 336.74,87.46 336.89,90.72 337.03,88.93 337.18,76.42 337.32,82.77 337.47,84.03 337.61,78.75 337.76,77.64 337.90,76.94 338.04,76.09 338.19,89.04 338.33,90.93 338.48,87.26 338.62,83.49 338.77,77.64 338.91,78.34 339.06,82.07 339.20,82.81 339.34,84.41 339.49,83.11 339.63,80.37 339.78,83.68 339.92,87.74 340.07,90.17 340.21,82.25 340.36,77.03 340.50,75.52 340.64,75.33 340.79,75.34 340.93,79.31 341.08,78.33 341.22,85.93 341.37,86.08 341.51,88.68 341.66,83.19 341.80,86.36 341.94,85.87 342.09,83.19 342.23,77.19 342.38,84.07 342.52,88.55 342.67,82.69 342.81,88.58 342.96,84.43 343.10,87.00 343.24,86.21 343.39,93.91 343.53,86.13 343.68,87.60 343.82,90.30 343.97,97.90 344.11,77.21 344.26,68.56 344.40,70.96 344.54,78.54 344.69,80.54 344.83,74.54 344.98,78.98 345.12,79.16 345.27,78.95 345.41,85.60 345.56,84.33 345.70,86.62 345.84,91.40 345.99,84.00 346.13,80.90 346.28,82.00 346.42,87.26 346.57,95.36 346.71,88.01 346.86,86.73 347.00,93.54 347.14,89.59 347.29,94.34 347.43,89.87 347.58,86.61 347.72,83.81 347.87,82.93 348.01,82.66 348.16,88.72 348.30,88.48 348.44,88.94 348.59,87.90 348.73,84.92 348.88,81.63 349.02,75.01 349.17,91.29 349.31,86.17 349.46,86.19 349.60,74.48 349.74,74.40 349.89,86.61 350.03,83.59 350.18,86.30 350.32,80.62 350.47,87.20 350.61,86.30 350.76,85.95 350.90,85.59 351.04,87.70 351.19,94.81 351.33,87.82 351.48,81.42 351.62,82.97 351.77,88.31 351.91,85.47 352.06,82.19 352.20,83.90 352.34,84.07 352.49,77.42 352.63,85.74 352.78,87.66 352.92,95.11 353.07,93.48 353.21,92.78 353.36,93.44 353.50,92.54 353.64,80.24 353.79,82.92 353.93,84.01 354.08,73.64 354.22,78.65 354.37,89.34 354.51,85.08 354.66,89.10 354.80,79.09 354.94,87.27 355.09,88.61 355.23,94.20 355.38,89.21 355.52,91.74 355.67,88.63 355.81,88.39 355.96,89.38 356.10,82.55 356.24,78.83 356.39,80.92 356.53,86.63 356.68,90.58 356.82,86.40 356.97,74.05 357.11,80.75 357.26,85.99 357.40,88.46 357.54,91.70 357.69,92.90 357.83,89.93 357.98,80.52 358.12,82.15 358.27,60.66 358.41,92.52 358.56,87.73 358.70,86.24 358.84,91.10 358.99,93.12 359.13,89.27 359.28,82.16 359.42,80.08 359.57,80.93 359.71,83.90 359.86,82.49 360.00,83.28 360.14,73.37 360.29,83.58 360.43,85.57 360.58,78.91 360.72,82.52 360.87,76.49 361.01,80.14 361.16,81.25 361.30,84.30 361.44,90.77 361.59,92.38 361.73,78.17 361.88,77.79 362.02,77.77 362.17,76.11 362.31,77.02 362.46,75.38 362.60,80.58 362.74,83.24 362.89,78.98 363.03,82.97 363.18,89.80 363.32,88.32 363.47,89.02 363.61,83.91 363.76,87.42 363.90,90.97 364.04,89.47 364.19,79.71 364.33,81.92 364.48,82.15 364.62,83.00 364.77,82.11 364.91,78.62 365.06,74.48 365.20,86.62 365.34,79.05 365.49,81.35 365.63,84.12 365.78,72.76 365.92,78.68 366.07,71.91 366.21,72.82 366.36,82.79 366.50,81.08 366.64,78.96 366.79,81.88 366.93,93.93 367.08,91.15 367.22,88.90 367.37,103.54 367.51,79.81 367.66,82.91 367.80,85.33 367.94,86.21 368.09,88.99 368.23,90.48 368.38,87.18 368.52,84.32 368.67,86.64 368.81,85.94 368.96,91.72 369.10,85.83 369.24,88.62 369.39,85.58 369.53,89.23 369.68,89.38 369.82,86.00 369.97,90.90 370.11,76.15 370.26,79.91 370.40,82.16 370.54,86.53 370.69,77.89 370.83,74.13 370.98,77.21 371.12,86.81 371.27,87.99 371.41,83.34 371.56,86.12 371.70,90.84 371.84,93.45 371.99,92.91 372.13,88.90 372.28,89.83 372.42,87.18 372.57,72.57 372.71,69.37 372.86,80.93 373.00,80.74 373.14,81.86 373.29,83.53 373.43,78.86 373.58,82.81 373.72,84.94 373.87,86.35 374.01,85.83 374.16,78.97 374.30,77.61 374.44,86.91 374.59,87.75 374.73,89.90 374.88,83.44 375.02,82.68 375.17,79.12 375.31,81.67 375.46,91.82 375.60,86.22 375.74,84.20 375.89,81.76 376.03,89.00 376.18,86.43 376.32,88.65 376.47,89.87 376.61,85.61 376.76,83.28 376.90,87.89 377.04,94.31 377.19,101.46 377.33,96.39 377.48,85.55 377.62,85.17 377.77,95.38 377.91,94.41 378.06,87.78 378.20,78.21 378.34,75.34 378.49,77.56 378.63,79.58 378.78,86.65 378.92,87.66 379.07,87.65 379.21,89.74 379.36,86.91 379.50,87.52 379.64,84.40 379.79,77.48 379.93,76.96 380.08,78.21 380.22,82.01 380.37,90.17 380.51,87.99 380.66,83.68 380.80,88.66 380.94,80.68 381.09,83.82 381.23,82.19 381.38,84.62 381.52,90.35 381.67,77.75 381.81,96.77 381.96,80.88 382.10,84.98 382.24,83.27 382.39,87.48 382.53,87.95 382.68,81.87 382.82,73.66 382.97,82.39 383.11,83.12 383.26,79.09 383.40,84.35 383.54,80.88 383.69,86.06 383.83,82.33 383.98,81.07 384.12,76.70 384.27,78.32 384.41,86.59 384.56,82.34 384.70,88.36 384.84,82.90 384.99,76.29 385.13,77.00 385.28,82.83 385.42,77.76 385.57,79.83 385.71,87.67 385.86,87.76 386.00,79.40 386.14,82.97 386.29,82.92 386.43,85.09 386.58,92.65 386.72,91.24 386.87,86.35 387.01,84.37 387.16,85.08 387.30,94.77 387.44,84.19 387.59,80.75 387.73,77.42 387.88,74.28 388.02,80.82 388.17,85.18 388.31,83.22 388.46,75.70" fill="none" stroke="#27508d" stroke-width="0.6" stroke-linejoin="round" />
<text x="281.60" y="59.93" font-size="3.9" fill="#6e6e6e" text-anchor="end" >21.00</text>
<text x="281.60" y="75.73" font-size="3.9" fill="#6e6e6e" text-anchor="end" >14.00</text>
<text x="281.60" y="91.53" font-size="3.9" fill="#6e6e6e" text-anchor="end" >07.00</text>
<text x="281.60" y="107.33" font-size="3.9" fill="#6e6e6e" text-anchor="end" >00</text>
<text x="284.60" y="111.56" font-size="4.0" fill="#6e6e6e" text-anchor="middle" >21 Jun, 00</text>
<text x="301.95" y="116.96" font-size="4.0" fill="#6e6e6e" text-anchor="middle" >26 Jun, 00</text>
<text x="319.30" y="111.56" font-size="4.0" fill="#6e6e6e" text-anchor="middle" >1 Jul, 00</text>
<text x="336.65" y="116.96" font-size="4.0" fill="#6e6e6e" text-anchor="middle" >6 Jul, 00</text>
<text x="354.00" y="111.56" font-size="4.0" fill="#6e6e6e" text-anchor="middle" >11 Jul, 00</text>
<text x="371.35" y="116.96" font-size="4.0" fill="#6e6e6e" text-anchor="middle" >16 Jul, 00</text>
<text x="282.60" y="54.96" font-size="3.7" fill="#6e6e6e" text-anchor="end" >minutes</text>
<line x1="284.40" y1="51.00" x2="291.90" y2="51.00" stroke="#6a8cc0" stroke-width="1.1"/>
<text x="292.70" y="51.82" font-size="3.6" fill="#777" text-anchor="start" >Avg. Session Duration</text>
<text x="292.70" y="54.82" font-size="3.6" fill="#777" text-anchor="start" textLength="44.1" lengthAdjust="spacingAndGlyphs" >Excludes bounced sessions</text>
<line x1="288.00" y1="231.60" x2="395.50" y2="231.60" stroke="#ebebeb" stroke-width="0.6"/>
<line x1="288.00" y1="241.95" x2="395.50" y2="241.95" stroke="#ebebeb" stroke-width="0.6"/>
<line x1="288.00" y1="252.30" x2="395.50" y2="252.30" stroke="#ebebeb" stroke-width="0.6"/>
<line x1="288.00" y1="262.65" x2="395.50" y2="262.65" stroke="#ebebeb" stroke-width="0.6"/>
<line x1="306.40" y1="231.60" x2="306.40" y2="273.00" stroke="#ebebeb" stroke-width="0.6"/>
<line x1="324.80" y1="231.60" x2="324.80" y2="273.00" stroke="#ebebeb" stroke-width="0.6"/>
<line x1="343.20" y1="231.60" x2="343.20" y2="273.00" stroke="#ebebeb" stroke-width="0.6"/>
<line x1="361.60" y1="231.60" x2="361.60" y2="273.00" stroke="#ebebeb" stroke-width="0.6"/>
<line x1="380.00" y1="231.60" x2="380.00" y2="273.00" stroke="#ebebeb" stroke-width="0.6"/>
<line x1="288.00" y1="273.00" x2="395.50" y2="273.00" stroke="#b8b8b8" stroke-width="0.6"/>
<line x1="288.00" y1="231.30" x2="288.00" y2="273.00" stroke="#c6c6c6" stroke-width="1.2"/>
<polyline points="287.90,246.92 292.00,243.61 296.10,244.85 300.30,245.26 304.40,244.85 306.90,244.43 310.00,246.09 313.70,247.75 317.30,244.85 321.00,244.85 324.50,239.47 328.70,242.78 332.20,241.54 335.90,244.43 340.00,245.26 343.70,241.95 347.40,243.61 351.60,243.61 355.70,244.02 358.20,244.02 361.90,246.09 366.00,245.26 369.80,242.36 373.30,244.43 376.40,244.02 380.50,245.68 384.30,244.43 388.40,246.92 392.00,246.50 395.30,244.02" fill="none" stroke="#e4623f" stroke-width="0.9" stroke-linejoin="round" />
<text x="284.70" y="233.13" font-size="3.9" fill="#6e6e6e" text-anchor="end" >100%</text>
<text x="284.70" y="243.48" font-size="3.9" fill="#6e6e6e" text-anchor="end" >75%</text>
<text x="284.70" y="253.83" font-size="3.9" fill="#6e6e6e" text-anchor="end" >50%</text>
<text x="284.70" y="264.18" font-size="3.9" fill="#6e6e6e" text-anchor="end" >25%</text>
<text x="284.70" y="274.53" font-size="3.9" fill="#6e6e6e" text-anchor="end" >0%</text>
<text x="288.00" y="279.26" font-size="4.0" fill="#6e6e6e" text-anchor="middle" >21 Jun</text>
<text x="306.40" y="279.26" font-size="4.0" fill="#6e6e6e" text-anchor="middle" >26 Jun</text>
<text x="324.80" y="279.26" font-size="4.0" fill="#6e6e6e" text-anchor="middle" >1 Jul</text>
<text x="343.20" y="279.26" font-size="4.0" fill="#6e6e6e" text-anchor="middle" >6 Jul</text>
<text x="361.60" y="279.26" font-size="4.0" fill="#6e6e6e" text-anchor="middle" >11 Jul</text>
<text x="380.00" y="279.26" font-size="4.0" fill="#6e6e6e" text-anchor="middle" >16 Jul</text>
<line x1="288.10" y1="224.50" x2="295.00" y2="224.50" stroke="#e4623f" stroke-width="1.1"/>
<text x="296.20" y="225.72" font-size="3.6" fill="#e4623f" text-anchor="start" >Completion out of eligibility journey</text>
</svg>
</div>
</body></html>
